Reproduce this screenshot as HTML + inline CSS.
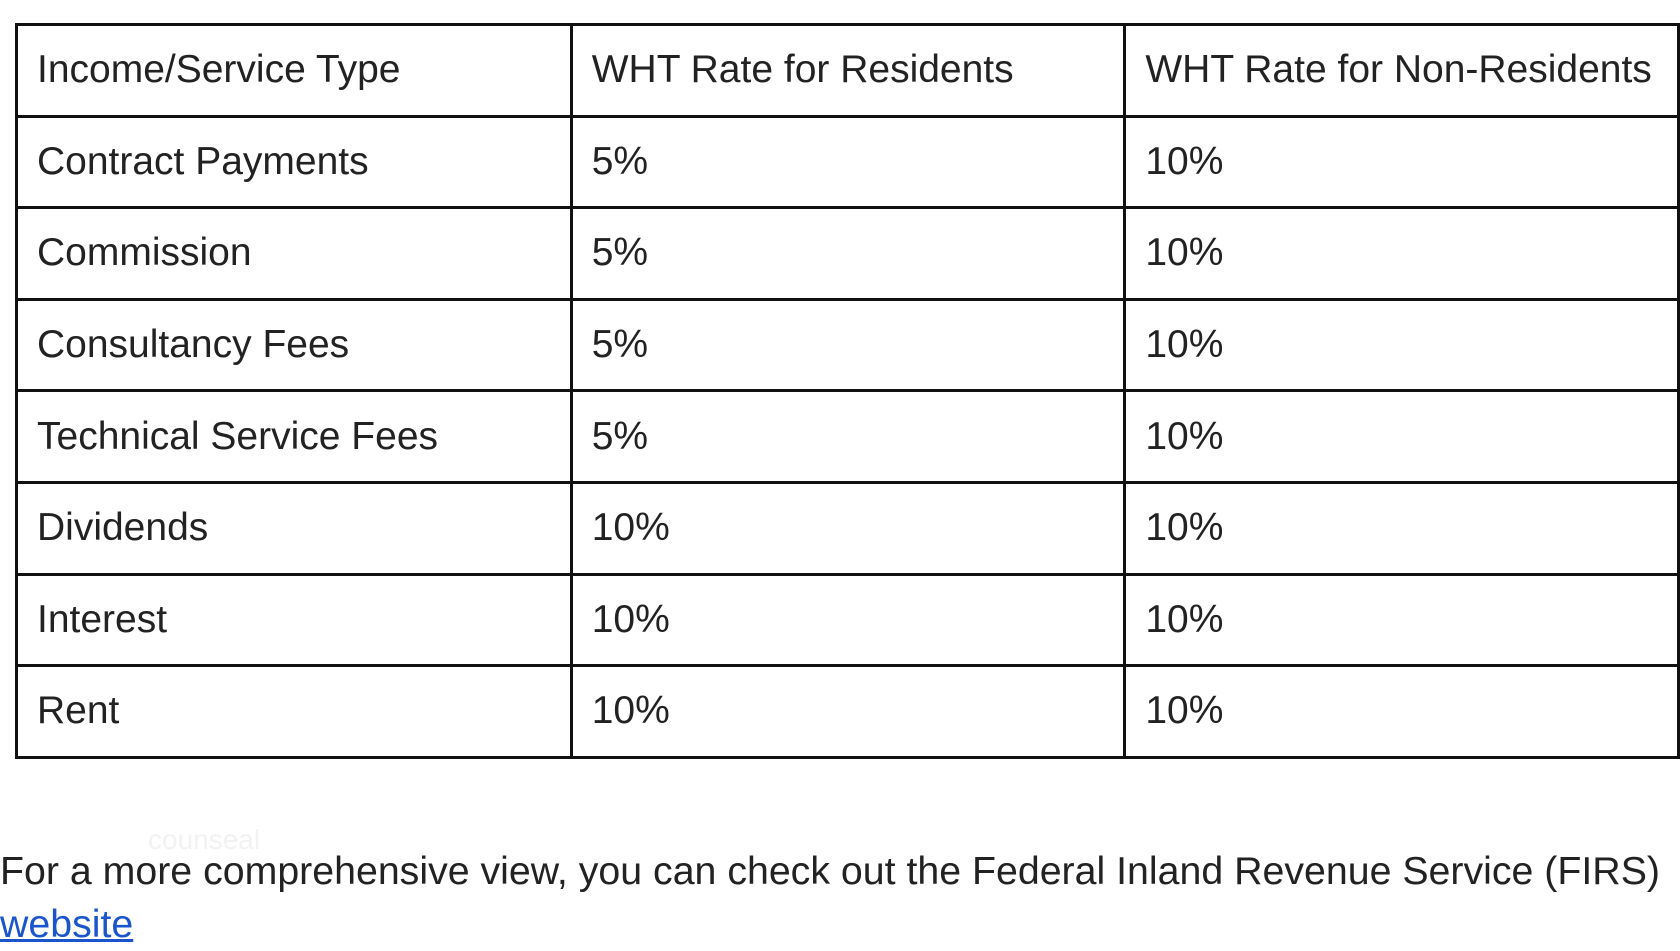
<!DOCTYPE html>
<html><head><meta charset="utf-8"><style>
html,body{margin:0;padding:0;background:#fff;width:1680px;height:945px;overflow:hidden;font-family:"Liberation Sans",Arial,sans-serif;color:#222;}
table{position:absolute;left:15px;top:23px;border-collapse:collapse;}
td{border:3px solid #111;width:554px;height:91.6px;padding:0 0 0 19px;font-size:39px;vertical-align:middle;box-sizing:border-box;}
td:first-child{width:555px}
.foot{position:absolute;left:0;top:845px;font-size:39.3px;white-space:nowrap;line-height:53px;}
a{color:#1a55cc;text-decoration:underline;}
.wm{position:absolute;left:148px;top:824px;font-size:28px;color:#f2f2f2;}
</style></head><body>
<table>
<tr><td>Income/Service Type</td><td>WHT Rate for Residents</td><td>WHT Rate for Non-Residents</td></tr>
<tr><td>Contract Payments</td><td>5%</td><td>10%</td></tr>
<tr><td>Commission</td><td>5%</td><td>10%</td></tr>
<tr><td>Consultancy Fees</td><td>5%</td><td>10%</td></tr>
<tr><td>Technical Service Fees</td><td>5%</td><td>10%</td></tr>
<tr><td>Dividends</td><td>10%</td><td>10%</td></tr>
<tr><td>Interest</td><td>10%</td><td>10%</td></tr>
<tr><td>Rent</td><td>10%</td><td>10%</td></tr>
</table>
<div class="wm">counseal</div>
<div class="foot">For a more comprehensive view, you can check out the Federal Inland Revenue Service (FIRS)<br><a>website</a></div>
</body></html>
